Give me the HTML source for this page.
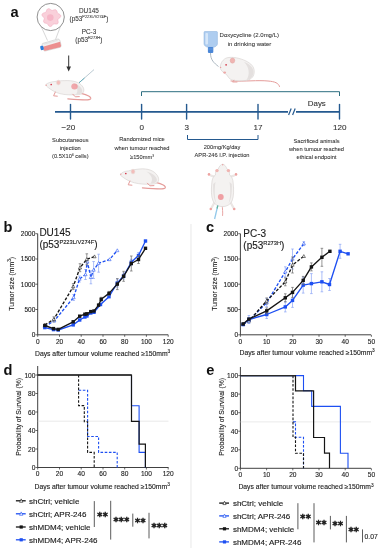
<!DOCTYPE html>
<html><head><meta charset="utf-8"><title>Figure</title><style>
html,body{margin:0;padding:0;background:#fff;}
svg{display:block;}
text{font-family:"Liberation Sans", Arial, Helvetica, sans-serif;}
.lbl{font-weight:bold;font-size:14.6px;fill:#111;}
.ta{fill:#333;stroke:#333;stroke-width:0.07px;}
.tt{fill:#333;stroke:#333;stroke-width:0.1px;}
.tk{font-size:6.5px;fill:#222;stroke:#222;stroke-width:0.12px;}
.tk2{font-size:6.6px;fill:#222;stroke:#222;stroke-width:0.12px;}
.tit{font-size:10px;fill:#1a1a1a;stroke:#1a1a1a;stroke-width:0.12px;}
.ax{font-size:6.8px;fill:#222;stroke:#222;stroke-width:0.12px;}
.lg{font-size:8px;fill:#1a1a1a;stroke:#1a1a1a;stroke-width:0.14px;}
.st{font-family:"DejaVu Sans", "Liberation Sans", sans-serif;font-size:9.6px;font-weight:bold;fill:#151515;stroke:#151515;stroke-width:0.45px;letter-spacing:0.45px;}
</style></head>
<body><svg width="385" height="550" viewBox="0 0 385 550">
<rect x="0" y="0" width="385" height="550" fill="#ffffff"/>

<text x="10.4" y="17.4" class="lbl" font-size="14">a</text>
<line x1="40.5" y1="25" x2="47.5" y2="40.5" stroke="#bcbcbc" stroke-width="0.6"/>
<line x1="61" y1="25" x2="55.5" y2="39.5" stroke="#bcbcbc" stroke-width="0.6"/>
<circle cx="50.7" cy="17" r="13.6" fill="#ffffff" stroke="#858585" stroke-width="0.9"/>
<path d="M60.26,17.30 L59.90,17.68 L59.50,18.03 L59.08,18.34 L58.69,18.62 L58.35,18.88 L58.08,19.14 L57.90,19.41 L57.81,19.71 L57.80,20.04 L57.86,20.41 L57.95,20.83 L58.06,21.28 L58.14,21.75 L58.17,22.22 L58.14,22.67 L58.02,23.09 L57.81,23.44 L57.52,23.71 L57.14,23.91 L56.72,24.01 L56.25,24.05 L55.77,24.03 L55.31,23.97 L54.86,23.91 L54.46,23.86 L54.09,23.87 L53.76,23.93 L53.47,24.07 L53.19,24.29 L52.91,24.58 L52.62,24.92 L52.31,25.29 L51.97,25.65 L51.60,25.99 L51.20,26.26 L50.78,26.44 L50.35,26.52 L49.92,26.49 L49.51,26.35 L49.13,26.11 L48.79,25.79 L48.48,25.43 L48.21,25.05 L47.96,24.66 L47.72,24.31 L47.48,24.01 L47.22,23.76 L46.94,23.57 L46.61,23.43 L46.25,23.33 L45.85,23.24 L45.44,23.15 L45.02,23.04 L44.62,22.88 L44.26,22.67 L43.96,22.41 L43.75,22.08 L43.62,21.70 L43.58,21.28 L43.62,20.84 L43.73,20.40 L43.88,19.97 L44.04,19.56 L44.18,19.18 L44.27,18.83 L44.30,18.52 L44.25,18.21 L44.10,17.92 L43.87,17.62 L43.57,17.30 L43.23,16.95 L42.88,16.57 L42.55,16.16 L42.27,15.73 L42.08,15.28 L42.00,14.83 L42.03,14.41 L42.19,14.02 L42.46,13.67 L42.82,13.38 L43.26,13.15 L43.73,12.97 L44.21,12.82 L44.68,12.70 L45.09,12.57 L45.46,12.43 L45.75,12.24 L45.98,12.00 L46.17,11.71 L46.31,11.35 L46.44,10.94 L46.58,10.51 L46.75,10.06 L46.96,9.64 L47.22,9.27 L47.53,8.97 L47.90,8.76 L48.31,8.67 L48.75,8.68 L49.20,8.79 L49.65,8.98 L50.07,9.24 L50.48,9.52 L50.85,9.80 L51.20,10.06 L51.53,10.26 L51.84,10.38 L52.16,10.43 L52.49,10.41 L52.84,10.31 L53.22,10.18 L53.64,10.02 L54.07,9.88 L54.52,9.77 L54.96,9.72 L55.39,9.74 L55.78,9.85 L56.13,10.05 L56.42,10.33 L56.65,10.66 L56.83,11.04 L56.97,11.44 L57.08,11.84 L57.18,12.23 L57.30,12.57 L57.46,12.88 L57.67,13.15 L57.94,13.39 L58.27,13.61 L58.65,13.81 L59.07,14.03 L59.50,14.28 L59.90,14.55 L60.26,14.87 L60.54,15.23 L60.72,15.62 L60.78,16.04 L60.72,16.47 L60.54,16.89 Z" fill="#f9d0da" stroke="#f2a9bd" stroke-width="0.6"/>
<circle cx="50.3" cy="17.6" r="3.3" fill="#f6b6c7"/>
<g transform="rotate(-14 52 45)">
<path d="M43.5,41.2 L58.5,40.6 C60,40.6 60.8,41.4 60.8,43 L60.8,47.6 C60.8,48.6 60,49.2 59,49.2 L44,49.2 C43,49.2 42.6,48.6 42.6,47.6 L42.6,42.2 C42.6,41.6 43,41.2 43.5,41.2 Z" fill="#f1f1f1" stroke="#c4c4c4" stroke-width="0.5"/>
<path d="M42.8,44.6 L60.6,43.8 L60.6,47.6 C60.6,48.5 60,49 59,49 L44,49 C43.2,49 42.8,48.5 42.8,47.6 Z" fill="#ec8f8f"/>
<path d="M44.5,42.3 L58.6,41.8" stroke="#dcdcdc" stroke-width="0.6"/>
<rect x="40" y="43.2" width="3.2" height="4.4" rx="1.3" fill="#2b7fdc"/>
</g>
<text class="ta" x="88.9" y="13.3" font-size="6.4" text-anchor="middle">DU145</text>
<text class="ta" x="88.9" y="20.6" font-size="6.4" text-anchor="middle">(p53<tspan font-size="3.9" dy="-2.6">P223L/V274F</tspan><tspan dy="2.6">)</tspan></text>
<text class="ta" x="89" y="34.4" font-size="6.4" text-anchor="middle">PC-3</text>
<text class="ta" x="88.8" y="41.9" font-size="6.4" text-anchor="middle">(p53<tspan font-size="3.9" dy="-2.6">R273H</tspan><tspan dy="2.6">)</tspan></text>
<line x1="68.7" y1="55.5" x2="68.7" y2="68" stroke="#333" stroke-width="1"/>
<path d="M66.4,66.5 L71,66.5 L68.7,71.5 Z" fill="#333"/>
<line x1="79" y1="82.8" x2="94" y2="69.6" stroke="#a9bcc6" stroke-width="0.8"/>
<line x1="79" y1="82.8" x2="84.5" y2="78" stroke="#5aa8b8" stroke-width="0.9"/>
<g transform="translate(45.8,80.6) scale(1.0)"><path d="M35.3,12.8 C42,14.3 45.6,16.3 44.9,18.2 C44,20 38,19.6 22,18.3" fill="none" stroke="#e59c9a" stroke-width="1.1" stroke-linecap="round"/><path d="M0,4 C1.5,2.5 5,1.2 9,0.9 C13,0.2 17,0 22,0 C30,0.2 35,2.5 37.5,7 C39,10.5 37.5,13.5 33,14 C27,14.5 19,14.5 14,13 C10,12 5,9.2 2.5,7 C1,6 0,5 0,4 Z" fill="#f4f2f1" stroke="#d2cbc9" stroke-width="0.55"/><path d="M26,2 C32,3.5 36.5,7 36.5,10.5 C36.5,13 34,14 30,13.8 C33,11 32,6 26,2 Z" fill="#e4e0df"/><ellipse cx="12.6" cy="2" rx="2" ry="2.4" fill="#f3bebb" stroke="#e6e0de" stroke-width="0.6"/><circle cx="5.4" cy="3.9" r="0.85" fill="#d43a4c"/><circle cx="0.4" cy="4.6" r="0.7" fill="#eaa0a0"/><path d="M9.5,11.5 L7.8,15.2 L11.5,15.6" fill="none" stroke="#e59c9a" stroke-width="1" stroke-linecap="round" stroke-linejoin="round"/><path d="M27,13.6 L29.5,16.2 L33.5,16" fill="none" stroke="#e59c9a" stroke-width="1" stroke-linecap="round" stroke-linejoin="round"/></g>
<ellipse cx="74.5" cy="86.5" rx="3.2" ry="3" fill="#ef8d93" opacity="0.75"/>
<path d="M210.5,53 C210.5,60 214,63 218.5,66.5" fill="none" stroke="#8a9aa6" stroke-width="0.7"/>
<path d="M204.8,31.5 H216.6 C217.1,31.5 217.4,31.8 217.4,32.3 V44 C217.4,45.5 215.5,47 213.5,47.3 H208 C206,47 204,45.5 204,44 V32.3 C204,31.8 204.3,31.5 204.8,31.5 Z" fill="#aecdf0" stroke="#86aedb" stroke-width="0.5"/>
<rect x="205.4" y="33" width="2.6" height="11.5" rx="1" fill="#d6e7f9"/>
<rect x="207.9" y="47.1" width="5.4" height="5.8" rx="0.8" fill="#4a86d6"/>
<line x1="207.9" y1="49" x2="213.3" y2="49" stroke="#80aee6" stroke-width="0.5"/>
<text class="ta" x="249.3" y="37.4" font-size="6" text-anchor="middle">Doxycycline (2.0mg/L)</text>
<text class="ta" x="249.5" y="45.6" font-size="6" text-anchor="middle">in drinking water</text>
<g>
<path d="M231,81 C245,81.6 258,80 268,81 C275,81.6 278.5,83 279.5,86.5" fill="none" stroke="#e59c9a" stroke-width="1" stroke-linecap="round"/>
<path d="M220.3,67.2 C220.5,63 223,59 227,57.8 C232,56.5 240,58 246,61 C251,63.5 254,66.5 254.2,71 C254.5,76 251.5,79.5 247,80.3 C242,81 236,81 232,80 C229,79 228,76.5 226.5,74.5 C224,73 221.5,71 220.8,69.5 C220.4,68.8 220.3,68 220.3,67.2 Z" fill="#f4f2f1" stroke="#d2cbc9" stroke-width="0.55"/>
<path d="M244,62 C250,64 253.5,68 253.5,72 C253.5,76.5 250.5,79.5 246.5,80 C250,75 249.5,67 244,62 Z" fill="#e4e0df"/>
<ellipse cx="232.5" cy="60.6" rx="2.3" ry="2.6" fill="#f0b4b1" stroke="#dca09d" stroke-width="0.4"/>
<circle cx="226.1" cy="64.8" r="0.85" fill="#d43a4c"/>
<circle cx="220.6" cy="67.4" r="0.7" fill="#eaa0a0"/>
<ellipse cx="224.6" cy="72.6" rx="1.5" ry="1.1" fill="#eeaaa8"/>
<path d="M234,80.2 L232.5,82 L237,82" fill="none" stroke="#e59c9a" stroke-width="0.9" stroke-linecap="round"/>
</g>
<path d="M141.5,96 V91.7 H339.5 V96" fill="none" stroke="#2d6e80" stroke-width="1"/>
<line x1="55" y1="111.9" x2="339.5" y2="111.9" stroke="#24598f" stroke-width="1.6"/>
<line x1="70.5" y1="104.5" x2="70.5" y2="119" stroke="#24598f" stroke-width="1.4" stroke-linecap="round"/>
<line x1="141.6" y1="104.5" x2="141.6" y2="119" stroke="#24598f" stroke-width="1.4" stroke-linecap="round"/>
<line x1="186.6" y1="104.5" x2="186.6" y2="119" stroke="#24598f" stroke-width="1.4" stroke-linecap="round"/>
<line x1="258" y1="104.5" x2="258" y2="119" stroke="#24598f" stroke-width="1.4" stroke-linecap="round"/>
<line x1="339.5" y1="104.5" x2="339.5" y2="119" stroke="#24598f" stroke-width="1.4" stroke-linecap="round"/>
<rect x="288" y="108" width="8" height="8" fill="#fff"/>
<line x1="288.6" y1="115" x2="291.2" y2="108.6" stroke="#24598f" stroke-width="1.2"/>
<line x1="292.6" y1="115" x2="295.2" y2="108.6" stroke="#24598f" stroke-width="1.2"/>
<text class="tt" x="316.8" y="105.6" font-size="7.9" text-anchor="middle">Days</text>
<text class="tt" x="68.3" y="129.6" font-size="8.1" text-anchor="middle">−20</text>
<text class="tt" x="141.8" y="129.6" font-size="8.1" text-anchor="middle">0</text>
<text class="tt" x="186.8" y="129.6" font-size="8.1" text-anchor="middle">3</text>
<text class="tt" x="258" y="129.6" font-size="8.1" text-anchor="middle">17</text>
<text class="tt" x="339.8" y="129.6" font-size="8.1" text-anchor="middle">120</text>
<path d="M187.5,135 V139.5 H258 V135" fill="none" stroke="#24598f" stroke-width="1"/>
<text class="ta" x="70.3" y="142.2" font-size="5.7" text-anchor="middle">Subcutaneous</text>
<text class="ta" x="70.3" y="150.2" font-size="5.7" text-anchor="middle">injection</text>
<text class="ta" x="70.3" y="158.2" font-size="5.7" text-anchor="middle">(0.5X10<tspan font-size="3.2" dy="-2">6</tspan><tspan dy="2"> cells)</tspan></text>
<text class="ta" x="142" y="141.4" font-size="5.7" text-anchor="middle">Randomized mice</text>
<text class="ta" x="142" y="149.5" font-size="5.7" text-anchor="middle">when tumour reached</text>
<text class="ta" x="142" y="158.5" font-size="5.7" text-anchor="middle">≥150mm<tspan font-size="3.2" dy="-2">3</tspan></text>
<text class="ta" x="222" y="149" font-size="5.7" text-anchor="middle">200mg/Kg/day</text>
<text class="ta" x="222" y="157" font-size="5.7" text-anchor="middle">APR-246 I.P. injection</text>
<text class="ta" x="316.5" y="143" font-size="5.7" text-anchor="middle">Sacrificed animals</text>
<text class="ta" x="316.5" y="151" font-size="5.7" text-anchor="middle">when tumour reached</text>
<text class="ta" x="316.5" y="159.4" font-size="5.7" text-anchor="middle">ethical endpoint</text>
<g transform="translate(120.4,169.6) scale(1.0)"><path d="M35.3,12.8 C42,14.3 45.6,16.3 44.9,18.2 C44,20 38,19.6 22,18.3" fill="none" stroke="#e59c9a" stroke-width="1.1" stroke-linecap="round"/><path d="M0,5 C1,3 4,1.6 8,1.3 C12,0.3 16,-0.5 22,-0.8 C30,-0.8 35.5,2.5 37.8,7.5 C39.2,11 37.5,14 33,14.5 C27,15 19,14.6 14,13.2 C10,12.2 5,9.6 2.5,7.6 C1,6.6 0,6 0,5 Z" fill="#f4f2f1" stroke="#d2cbc9" stroke-width="0.55"/><path d="M26,2 C32,3.5 36.5,7 36.5,10.5 C36.5,13 34,14 30,13.8 C33,11 32,6 26,2 Z" fill="#e4e0df"/><ellipse cx="12.6" cy="2" rx="2" ry="2.4" fill="#f3bebb" stroke="#e6e0de" stroke-width="0.6"/><circle cx="5.4" cy="3.9" r="0.85" fill="#d43a4c"/><circle cx="0.4" cy="4.6" r="0.7" fill="#eaa0a0"/><path d="M9.5,11.5 L7.8,15.2 L11.5,15.6" fill="none" stroke="#e59c9a" stroke-width="1" stroke-linecap="round" stroke-linejoin="round"/><path d="M27,13.6 L29.5,16.2 L33.5,16" fill="none" stroke="#e59c9a" stroke-width="1" stroke-linecap="round" stroke-linejoin="round"/></g>
<g>
<path d="M222.4,205 C222.2,209 223,212 222.6,215.5" fill="none" stroke="#e59c9a" stroke-width="0.9" stroke-linecap="round"/>
<path d="M215.8,177 L211,175.6 M229.2,177 L234,175.6 M215.6,200.5 L211.6,207.6 M229.4,200.5 L233.4,207.6" fill="none" stroke="#ebe6e4" stroke-width="2.2" stroke-linecap="round"/>
<circle cx="209" cy="174.4" r="1.3" fill="#eda3a1"/><circle cx="236" cy="174.4" r="1.3" fill="#eda3a1"/>
<circle cx="210.8" cy="209" r="1.3" fill="#eda3a1"/><circle cx="234.2" cy="209" r="1.3" fill="#eda3a1"/>
<path d="M222.7,164.2 C224.5,164.2 226,166.5 227,169 C229,170 230,172.5 229.5,175 C231.5,176 233,179 233.2,183 C233.8,190 234,196 232,201 C230.5,204.5 227,206.5 222.5,206.7 C218,206.5 214.5,204.5 213,201 C211,196 211.2,190 211.8,183 C212,179 213.5,176 215.5,175 C215,172.5 216,170 218.2,169 C219.2,166.5 220.8,164.2 222.7,164.2 Z" fill="#f4f2f1" stroke="#d2cbc9" stroke-width="0.55"/>
<path d="M213.2,184 C213,192 213.5,199 216.5,203.5 C214.5,198 214.2,190 215.5,182 Z M231.8,184 C232,192 231.5,199 228.5,203.5 C230.5,198 230.8,190 229.5,182 Z" fill="#e4e0df"/>
<circle cx="217" cy="170.6" r="1.7" fill="#f0b4b1"/><circle cx="228.4" cy="170.6" r="1.7" fill="#f0b4b1"/>
<circle cx="222.7" cy="164.8" r="0.7" fill="#eaa0a0"/>
<circle cx="220.8" cy="197" r="2.9" fill="#ee8a90" opacity="0.8"/>
<line x1="217.8" y1="205.5" x2="214.6" y2="219" stroke="#93c9ea" stroke-width="1.3"/>
<line x1="217.8" y1="205.5" x2="217.1" y2="208.5" stroke="#5fb39a" stroke-width="1.2"/>
</g>
<line x1="37.7" y1="233.7" x2="37.7" y2="334.8" stroke="#2b2b2b" stroke-width="0.9"/>
<line x1="37.7" y1="334.8" x2="168.2" y2="334.8" stroke="#2b2b2b" stroke-width="0.9"/>
<line x1="35.5" y1="334.8" x2="37.7" y2="334.8" stroke="#2b2b2b" stroke-width="0.7"/>
<text class="tk" x="35.3" y="337.2" text-anchor="end">0</text>
<line x1="35.5" y1="309.5" x2="37.7" y2="309.5" stroke="#2b2b2b" stroke-width="0.7"/>
<text class="tk" x="35.3" y="311.9" text-anchor="end">500</text>
<line x1="35.5" y1="284.2" x2="37.7" y2="284.2" stroke="#2b2b2b" stroke-width="0.7"/>
<text class="tk" x="35.3" y="286.6" text-anchor="end">1000</text>
<line x1="35.5" y1="259.0" x2="37.7" y2="259.0" stroke="#2b2b2b" stroke-width="0.7"/>
<text class="tk" x="35.3" y="261.3" text-anchor="end">1500</text>
<line x1="35.5" y1="233.7" x2="37.7" y2="233.7" stroke="#2b2b2b" stroke-width="0.7"/>
<text class="tk" x="35.3" y="236.1" text-anchor="end">2000</text>
<line x1="37.7" y1="334.8" x2="37.7" y2="336.8" stroke="#2b2b2b" stroke-width="0.7"/>
<text class="tk" x="37.7" y="343.7" text-anchor="middle">0</text>
<line x1="59.5" y1="334.8" x2="59.5" y2="336.8" stroke="#2b2b2b" stroke-width="0.7"/>
<text class="tk" x="59.5" y="343.7" text-anchor="middle">20</text>
<line x1="81.2" y1="334.8" x2="81.2" y2="336.8" stroke="#2b2b2b" stroke-width="0.7"/>
<text class="tk" x="81.2" y="343.7" text-anchor="middle">40</text>
<line x1="103.0" y1="334.8" x2="103.0" y2="336.8" stroke="#2b2b2b" stroke-width="0.7"/>
<text class="tk" x="103.0" y="343.7" text-anchor="middle">60</text>
<line x1="124.7" y1="334.8" x2="124.7" y2="336.8" stroke="#2b2b2b" stroke-width="0.7"/>
<text class="tk" x="124.7" y="343.7" text-anchor="middle">80</text>
<line x1="146.4" y1="334.8" x2="146.4" y2="336.8" stroke="#2b2b2b" stroke-width="0.7"/>
<text class="tk" x="146.4" y="343.7" text-anchor="middle">100</text>
<line x1="168.2" y1="334.8" x2="168.2" y2="336.8" stroke="#2b2b2b" stroke-width="0.7"/>
<text class="tk" x="168.2" y="343.7" text-anchor="middle">120</text>
<line x1="240.4" y1="233.7" x2="240.4" y2="334.8" stroke="#2b2b2b" stroke-width="0.9"/>
<line x1="240.4" y1="334.8" x2="371" y2="334.8" stroke="#2b2b2b" stroke-width="0.9"/>
<line x1="238.20000000000002" y1="334.8" x2="240.4" y2="334.8" stroke="#2b2b2b" stroke-width="0.7"/>
<text class="tk" x="238.0" y="337.2" text-anchor="end">0</text>
<line x1="238.20000000000002" y1="309.5" x2="240.4" y2="309.5" stroke="#2b2b2b" stroke-width="0.7"/>
<text class="tk" x="238.0" y="311.9" text-anchor="end">500</text>
<line x1="238.20000000000002" y1="284.2" x2="240.4" y2="284.2" stroke="#2b2b2b" stroke-width="0.7"/>
<text class="tk" x="238.0" y="286.6" text-anchor="end">1000</text>
<line x1="238.20000000000002" y1="259.0" x2="240.4" y2="259.0" stroke="#2b2b2b" stroke-width="0.7"/>
<text class="tk" x="238.0" y="261.3" text-anchor="end">1500</text>
<line x1="238.20000000000002" y1="233.7" x2="240.4" y2="233.7" stroke="#2b2b2b" stroke-width="0.7"/>
<text class="tk" x="238.0" y="236.1" text-anchor="end">2000</text>
<line x1="240.4" y1="334.8" x2="240.4" y2="336.8" stroke="#2b2b2b" stroke-width="0.7"/>
<text class="tk" x="240.4" y="343.7" text-anchor="middle">0</text>
<line x1="266.6" y1="334.8" x2="266.6" y2="336.8" stroke="#2b2b2b" stroke-width="0.7"/>
<text class="tk" x="266.6" y="343.7" text-anchor="middle">10</text>
<line x1="292.8" y1="334.8" x2="292.8" y2="336.8" stroke="#2b2b2b" stroke-width="0.7"/>
<text class="tk" x="292.8" y="343.7" text-anchor="middle">20</text>
<line x1="319.0" y1="334.8" x2="319.0" y2="336.8" stroke="#2b2b2b" stroke-width="0.7"/>
<text class="tk" x="319.0" y="343.7" text-anchor="middle">30</text>
<line x1="345.2" y1="334.8" x2="345.2" y2="336.8" stroke="#2b2b2b" stroke-width="0.7"/>
<text class="tk" x="345.2" y="343.7" text-anchor="middle">40</text>
<line x1="371.4" y1="334.8" x2="371.4" y2="336.8" stroke="#2b2b2b" stroke-width="0.7"/>
<text class="tk" x="371.4" y="343.7" text-anchor="middle">50</text>
<text class="lbl" x="3.5" y="231.5">b</text>
<text class="lbl" x="206" y="231.7">c</text>
<text class="tit" x="39.4" y="235.6">DU145</text>
<text class="tit" x="39.4" y="247.9">(p53<tspan font-size="5.7" dy="-4">P223L/V274F</tspan><tspan dy="4">)</tspan></text>
<text class="tit" x="243.3" y="236.8">PC-3</text>
<text class="tit" x="243.3" y="249.0">(p53<tspan font-size="5.7" dy="-4">R273H</tspan><tspan dy="4">)</tspan></text>
<text class="ax" transform="translate(13.8,283.8) rotate(-90)" font-size="7" text-anchor="middle">Tumor size (mm<tspan font-size="4.8" dy="-2.7">3</tspan><tspan dy="2.7">)</tspan></text>
<text class="ax" transform="translate(217.2,283.8) rotate(-90)" font-size="7" text-anchor="middle">Tumor size (mm<tspan font-size="4.8" dy="-2.7">3</tspan><tspan dy="2.7">)</tspan></text>
<text class="ax" x="35" y="355.6">Days after tumour volume reached ≥150mm<tspan font-size="4.8" dy="-2.7">3</tspan></text>
<text class="ax" x="239.5" y="355">Days after tumour volume reached ≥150mm<tspan font-size="4.8" dy="-2.7">3</tspan></text>
<path d="M73.6,294.5 V300.5 M72.3,294.5 H74.9 M72.3,300.5 H74.9" stroke="#8aa4f7" stroke-width="0.7" fill="none"/>
<path d="M79.5,276.0 V282.0 M78.2,276.0 H80.8 M78.2,282.0 H80.8" stroke="#8aa4f7" stroke-width="0.7" fill="none"/>
<path d="M85.5,269.5 V279.5 M84.2,269.5 H86.8 M84.2,279.5 H86.8" stroke="#8aa4f7" stroke-width="0.7" fill="none"/>
<path d="M90.9,270.8 V283.8 M89.6,270.8 H92.2 M89.6,283.8 H92.2" stroke="#8aa4f7" stroke-width="0.7" fill="none"/>
<path d="M93.6,261.5 V278.5 M92.3,261.5 H94.9 M92.3,278.5 H94.9" stroke="#8aa4f7" stroke-width="0.7" fill="none"/>
<path d="M98.6,254.2 V272.2 M97.3,254.2 H99.9 M97.3,272.2 H99.9" stroke="#8aa4f7" stroke-width="0.7" fill="none"/>
<polyline points="44.8,326.5 54.3,320.8 73.6,297.5 79.5,279.0 85.5,274.5 87.3,261.8 90.9,277.3 93.6,270.0 98.6,263.2 109.5,259.5 117.3,250.5" fill="none" stroke="#1d4ff2" stroke-width="1.35" stroke-dasharray="3,1.7" stroke-linejoin="round"/>
<path d="M44.8,324.8 L46.4,327.7 L43.2,327.7 Z" fill="#fff" stroke="#1d4ff2" stroke-width="0.55"/>
<path d="M54.3,319.1 L55.9,322.0 L52.7,322.0 Z" fill="#fff" stroke="#1d4ff2" stroke-width="0.55"/>
<path d="M73.6,295.8 L75.2,298.7 L72.0,298.7 Z" fill="#fff" stroke="#1d4ff2" stroke-width="0.55"/>
<path d="M79.5,277.3 L81.1,280.2 L77.9,280.2 Z" fill="#fff" stroke="#1d4ff2" stroke-width="0.55"/>
<path d="M85.5,272.8 L87.1,275.7 L83.9,275.7 Z" fill="#fff" stroke="#1d4ff2" stroke-width="0.55"/>
<path d="M87.3,260.1 L88.9,263.0 L85.7,263.0 Z" fill="#fff" stroke="#1d4ff2" stroke-width="0.55"/>
<path d="M90.9,275.6 L92.5,278.5 L89.3,278.5 Z" fill="#fff" stroke="#1d4ff2" stroke-width="0.55"/>
<path d="M93.6,268.3 L95.2,271.2 L92.0,271.2 Z" fill="#fff" stroke="#1d4ff2" stroke-width="0.55"/>
<path d="M98.6,261.5 L100.2,264.4 L97.0,264.4 Z" fill="#fff" stroke="#1d4ff2" stroke-width="0.55"/>
<path d="M109.5,257.8 L111.1,260.7 L107.9,260.7 Z" fill="#fff" stroke="#1d4ff2" stroke-width="0.55"/>
<path d="M117.3,248.8 L118.9,251.7 L115.7,251.7 Z" fill="#fff" stroke="#1d4ff2" stroke-width="0.55"/>
<path d="M53.8,316.8 V321.8 M52.5,316.8 H55.1 M52.5,321.8 H55.1" stroke="#6a6a6a" stroke-width="0.7" fill="none"/>
<path d="M73.2,283.6 V289.6 M71.9,283.6 H74.5 M71.9,289.6 H74.5" stroke="#6a6a6a" stroke-width="0.7" fill="none"/>
<path d="M80.0,263.7 V271.7 M78.7,263.7 H81.3 M78.7,271.7 H81.3" stroke="#6a6a6a" stroke-width="0.7" fill="none"/>
<path d="M86.8,253.8 V264.8 M85.5,253.8 H88.1 M85.5,264.8 H88.1" stroke="#6a6a6a" stroke-width="0.7" fill="none"/>
<polyline points="44.8,325.0 53.8,319.3 73.2,286.6 80.0,267.7 86.8,259.3 94.5,256.6" fill="none" stroke="#151515" stroke-width="1.35" stroke-dasharray="3,1.7" stroke-linejoin="round"/>
<path d="M44.8,323.3 L46.4,326.2 L43.2,326.2 Z" fill="#fff" stroke="#151515" stroke-width="0.55"/>
<path d="M53.8,317.6 L55.4,320.5 L52.2,320.5 Z" fill="#fff" stroke="#151515" stroke-width="0.55"/>
<path d="M73.2,284.9 L74.8,287.8 L71.6,287.8 Z" fill="#fff" stroke="#151515" stroke-width="0.55"/>
<path d="M80.0,266.0 L81.6,268.9 L78.4,268.9 Z" fill="#fff" stroke="#151515" stroke-width="0.55"/>
<path d="M86.8,257.6 L88.4,260.5 L85.2,260.5 Z" fill="#fff" stroke="#151515" stroke-width="0.55"/>
<path d="M94.5,254.9 L96.1,257.8 L92.9,257.8 Z" fill="#fff" stroke="#151515" stroke-width="0.55"/>
<path d="M117.3,279.0 V287.0 M116.0,279.0 H118.6 M116.0,287.0 H118.6" stroke="#8aa4f7" stroke-width="0.7" fill="none"/>
<path d="M123.6,273.0 V279.0 M122.3,273.0 H124.9 M122.3,279.0 H124.9" stroke="#8aa4f7" stroke-width="0.7" fill="none"/>
<path d="M131.3,259.3 V265.3 M130.0,259.3 H132.6 M130.0,265.3 H132.6" stroke="#8aa4f7" stroke-width="0.7" fill="none"/>
<path d="M138.5,252.5 V258.5 M137.2,252.5 H139.8 M137.2,258.5 H139.8" stroke="#8aa4f7" stroke-width="0.7" fill="none"/>
<polyline points="44.8,327.6 53.5,329.6 58.2,330.0 73.2,324.9 79.7,320.0 84.9,317.0 86.9,316.0 90.8,313.0 94.0,312.3 100.5,304.5 109.0,296.7 117.3,283.0 123.6,276.0 131.3,262.3 138.5,255.5 145.5,241.0" fill="none" stroke="#1d4ff2" stroke-width="1.35" stroke-linejoin="round"/>
<rect x="43.1" y="325.9" width="3.4" height="3.4" fill="#1d4ff2"/>
<rect x="51.8" y="327.9" width="3.4" height="3.4" fill="#1d4ff2"/>
<rect x="56.5" y="328.3" width="3.4" height="3.4" fill="#1d4ff2"/>
<rect x="71.5" y="323.2" width="3.4" height="3.4" fill="#1d4ff2"/>
<rect x="78.0" y="318.3" width="3.4" height="3.4" fill="#1d4ff2"/>
<rect x="83.2" y="315.3" width="3.4" height="3.4" fill="#1d4ff2"/>
<rect x="85.2" y="314.3" width="3.4" height="3.4" fill="#1d4ff2"/>
<rect x="89.1" y="311.3" width="3.4" height="3.4" fill="#1d4ff2"/>
<rect x="92.3" y="310.6" width="3.4" height="3.4" fill="#1d4ff2"/>
<rect x="98.8" y="302.8" width="3.4" height="3.4" fill="#1d4ff2"/>
<rect x="107.3" y="295.0" width="3.4" height="3.4" fill="#1d4ff2"/>
<rect x="115.6" y="281.3" width="3.4" height="3.4" fill="#1d4ff2"/>
<rect x="121.9" y="274.3" width="3.4" height="3.4" fill="#1d4ff2"/>
<rect x="129.6" y="260.6" width="3.4" height="3.4" fill="#1d4ff2"/>
<rect x="136.8" y="253.8" width="3.4" height="3.4" fill="#1d4ff2"/>
<rect x="143.8" y="239.3" width="3.4" height="3.4" fill="#1d4ff2"/>
<path d="M101.2,297.3 V301.3 M99.9,297.3 H102.5 M99.9,301.3 H102.5" stroke="#6a6a6a" stroke-width="0.7" fill="none"/>
<path d="M109.0,291.4 V295.4 M107.7,291.4 H110.3 M107.7,295.4 H110.3" stroke="#6a6a6a" stroke-width="0.7" fill="none"/>
<path d="M117.3,278.6 V289.6 M116.0,278.6 H118.6 M116.0,289.6 H118.6" stroke="#6a6a6a" stroke-width="0.7" fill="none"/>
<path d="M123.6,271.3 V281.3 M122.3,271.3 H124.9 M122.3,281.3 H124.9" stroke="#6a6a6a" stroke-width="0.7" fill="none"/>
<path d="M131.3,256.0 V271.0 M130.0,256.0 H132.6 M130.0,271.0 H132.6" stroke="#6a6a6a" stroke-width="0.7" fill="none"/>
<path d="M138.5,255.5 V263.5 M137.2,255.5 H139.8 M137.2,263.5 H139.8" stroke="#6a6a6a" stroke-width="0.7" fill="none"/>
<polyline points="44.8,325.5 53.5,328.6 58.2,329.4 73.2,321.8 79.7,316.2 84.9,314.2 86.9,313.8 90.8,311.6 94.0,311.0 98.6,305.1 101.2,299.3 109.0,293.4 117.3,284.1 123.6,276.3 131.3,263.5 138.5,259.5 145.5,248.3" fill="none" stroke="#151515" stroke-width="1.35" stroke-linejoin="round"/>
<rect x="43.1" y="323.8" width="3.4" height="3.4" fill="#151515"/>
<rect x="51.8" y="326.9" width="3.4" height="3.4" fill="#151515"/>
<rect x="56.5" y="327.7" width="3.4" height="3.4" fill="#151515"/>
<rect x="71.5" y="320.1" width="3.4" height="3.4" fill="#151515"/>
<rect x="78.0" y="314.5" width="3.4" height="3.4" fill="#151515"/>
<rect x="83.2" y="312.5" width="3.4" height="3.4" fill="#151515"/>
<rect x="85.2" y="312.1" width="3.4" height="3.4" fill="#151515"/>
<rect x="89.1" y="309.9" width="3.4" height="3.4" fill="#151515"/>
<rect x="92.3" y="309.3" width="3.4" height="3.4" fill="#151515"/>
<rect x="96.9" y="303.4" width="3.4" height="3.4" fill="#151515"/>
<rect x="99.5" y="297.6" width="3.4" height="3.4" fill="#151515"/>
<rect x="107.3" y="291.7" width="3.4" height="3.4" fill="#151515"/>
<rect x="115.6" y="282.4" width="3.4" height="3.4" fill="#151515"/>
<rect x="121.9" y="274.6" width="3.4" height="3.4" fill="#151515"/>
<rect x="129.6" y="261.8" width="3.4" height="3.4" fill="#151515"/>
<rect x="136.8" y="257.8" width="3.4" height="3.4" fill="#151515"/>
<rect x="143.8" y="246.6" width="3.4" height="3.4" fill="#151515"/>
<path d="M248.9,317.5 V323.5 M247.6,317.5 H250.2 M247.6,323.5 H250.2" stroke="#8aa4f7" stroke-width="0.7" fill="none"/>
<path d="M266.7,298.7 V306.7 M265.4,298.7 H268.0 M265.4,306.7 H268.0" stroke="#8aa4f7" stroke-width="0.7" fill="none"/>
<path d="M285.3,266.8 V276.8 M284.0,266.8 H286.6 M284.0,276.8 H286.6" stroke="#8aa4f7" stroke-width="0.7" fill="none"/>
<path d="M292.5,249.0 V269.0 M291.2,249.0 H293.8 M291.2,269.0 H293.8" stroke="#8aa4f7" stroke-width="0.7" fill="none"/>
<path d="M303.8,241.6 V245.6 M302.5,241.6 H305.1 M302.5,245.6 H305.1" stroke="#8aa4f7" stroke-width="0.7" fill="none"/>
<polyline points="243.1,324.5 248.9,320.5 266.7,302.7 285.3,271.8 292.5,259.0 303.8,243.6" fill="none" stroke="#1d4ff2" stroke-width="1.35" stroke-dasharray="3,1.7" stroke-linejoin="round"/>
<path d="M243.1,322.8 L244.7,325.7 L241.5,325.7 Z" fill="#fff" stroke="#1d4ff2" stroke-width="0.55"/>
<path d="M248.9,318.8 L250.5,321.7 L247.3,321.7 Z" fill="#fff" stroke="#1d4ff2" stroke-width="0.55"/>
<path d="M266.7,301.0 L268.3,303.9 L265.1,303.9 Z" fill="#fff" stroke="#1d4ff2" stroke-width="0.55"/>
<path d="M285.3,270.1 L286.9,273.0 L283.7,273.0 Z" fill="#fff" stroke="#1d4ff2" stroke-width="0.55"/>
<path d="M292.5,257.3 L294.1,260.2 L290.9,260.2 Z" fill="#fff" stroke="#1d4ff2" stroke-width="0.55"/>
<path d="M303.8,241.9 L305.4,244.8 L302.2,244.8 Z" fill="#fff" stroke="#1d4ff2" stroke-width="0.55"/>
<path d="M266.7,297.9 V303.9 M265.4,297.9 H268.0 M265.4,303.9 H268.0" stroke="#6a6a6a" stroke-width="0.7" fill="none"/>
<path d="M285.3,277.8 V285.8 M284.0,277.8 H286.6 M284.0,285.8 H286.6" stroke="#6a6a6a" stroke-width="0.7" fill="none"/>
<path d="M292.5,257.0 V273.0 M291.2,257.0 H293.8 M291.2,273.0 H293.8" stroke="#6a6a6a" stroke-width="0.7" fill="none"/>
<polyline points="243.1,324.0 248.9,321.0 266.7,300.9 285.3,281.8 292.5,265.0 303.8,256.3" fill="none" stroke="#151515" stroke-width="1.35" stroke-dasharray="3,1.7" stroke-linejoin="round"/>
<path d="M243.1,322.3 L244.7,325.2 L241.5,325.2 Z" fill="#fff" stroke="#151515" stroke-width="0.55"/>
<path d="M248.9,319.3 L250.5,322.2 L247.3,322.2 Z" fill="#fff" stroke="#151515" stroke-width="0.55"/>
<path d="M266.7,299.2 L268.3,302.1 L265.1,302.1 Z" fill="#fff" stroke="#151515" stroke-width="0.55"/>
<path d="M285.3,280.1 L286.9,283.0 L283.7,283.0 Z" fill="#fff" stroke="#151515" stroke-width="0.55"/>
<path d="M292.5,263.3 L294.1,266.2 L290.9,266.2 Z" fill="#fff" stroke="#151515" stroke-width="0.55"/>
<path d="M303.8,254.6 L305.4,257.5 L302.2,257.5 Z" fill="#fff" stroke="#151515" stroke-width="0.55"/>
<path d="M248.9,315.5 V323.5 M247.6,315.5 H250.2 M247.6,323.5 H250.2" stroke="#8aa4f7" stroke-width="0.7" fill="none"/>
<path d="M266.7,310.5 V318.5 M265.4,310.5 H268.0 M265.4,318.5 H268.0" stroke="#8aa4f7" stroke-width="0.7" fill="none"/>
<path d="M285.3,301.9 V311.9 M284.0,301.9 H286.6 M284.0,311.9 H286.6" stroke="#8aa4f7" stroke-width="0.7" fill="none"/>
<path d="M292.5,293.4 V307.4 M291.2,293.4 H293.8 M291.2,307.4 H293.8" stroke="#8aa4f7" stroke-width="0.7" fill="none"/>
<path d="M303.2,277.1 V293.1 M301.9,277.1 H304.5 M301.9,293.1 H304.5" stroke="#8aa4f7" stroke-width="0.7" fill="none"/>
<path d="M311.4,273.6 V293.6 M310.1,273.6 H312.7 M310.1,293.6 H312.7" stroke="#8aa4f7" stroke-width="0.7" fill="none"/>
<path d="M321.9,271.8 V291.8 M320.6,271.8 H323.2 M320.6,291.8 H323.2" stroke="#8aa4f7" stroke-width="0.7" fill="none"/>
<path d="M329.5,278.5 V290.5 M328.2,278.5 H330.8 M328.2,290.5 H330.8" stroke="#8aa4f7" stroke-width="0.7" fill="none"/>
<path d="M340.1,244.3 V258.3 M338.8,244.3 H341.4 M338.8,258.3 H341.4" stroke="#8aa4f7" stroke-width="0.7" fill="none"/>
<polyline points="243.1,324.5 248.9,319.5 266.7,314.5 285.3,306.9 292.5,300.4 303.2,285.1 311.4,283.6 321.9,281.8 329.5,284.5 340.1,251.3 348.1,253.8" fill="none" stroke="#1d4ff2" stroke-width="1.35" stroke-linejoin="round"/>
<rect x="241.4" y="322.8" width="3.4" height="3.4" fill="#1d4ff2"/>
<rect x="247.2" y="317.8" width="3.4" height="3.4" fill="#1d4ff2"/>
<rect x="265.0" y="312.8" width="3.4" height="3.4" fill="#1d4ff2"/>
<rect x="283.6" y="305.2" width="3.4" height="3.4" fill="#1d4ff2"/>
<rect x="290.8" y="298.7" width="3.4" height="3.4" fill="#1d4ff2"/>
<rect x="301.5" y="283.4" width="3.4" height="3.4" fill="#1d4ff2"/>
<rect x="309.7" y="281.9" width="3.4" height="3.4" fill="#1d4ff2"/>
<rect x="320.2" y="280.1" width="3.4" height="3.4" fill="#1d4ff2"/>
<rect x="327.8" y="282.8" width="3.4" height="3.4" fill="#1d4ff2"/>
<rect x="338.4" y="249.6" width="3.4" height="3.4" fill="#1d4ff2"/>
<rect x="346.4" y="252.1" width="3.4" height="3.4" fill="#1d4ff2"/>
<path d="M266.7,307.9 V313.9 M265.4,307.9 H268.0 M265.4,313.9 H268.0" stroke="#6a6a6a" stroke-width="0.7" fill="none"/>
<path d="M285.3,293.8 V301.8 M284.0,293.8 H286.6 M284.0,301.8 H286.6" stroke="#6a6a6a" stroke-width="0.7" fill="none"/>
<path d="M292.5,287.4 V297.4 M291.2,287.4 H293.8 M291.2,297.4 H293.8" stroke="#6a6a6a" stroke-width="0.7" fill="none"/>
<path d="M303.2,276.4 V284.4 M301.9,276.4 H304.5 M301.9,284.4 H304.5" stroke="#6a6a6a" stroke-width="0.7" fill="none"/>
<path d="M311.4,262.9 V270.9 M310.1,262.9 H312.7 M310.1,270.9 H312.7" stroke="#6a6a6a" stroke-width="0.7" fill="none"/>
<path d="M321.9,248.3 V266.3 M320.6,248.3 H323.2 M320.6,266.3 H323.2" stroke="#6a6a6a" stroke-width="0.7" fill="none"/>
<polyline points="243.1,324.0 248.9,319.1 266.7,310.9 285.3,297.8 292.5,292.4 303.2,280.4 311.4,266.9 321.9,257.3 329.9,251.3" fill="none" stroke="#151515" stroke-width="1.35" stroke-linejoin="round"/>
<rect x="241.4" y="322.3" width="3.4" height="3.4" fill="#151515"/>
<rect x="247.2" y="317.4" width="3.4" height="3.4" fill="#151515"/>
<rect x="265.0" y="309.2" width="3.4" height="3.4" fill="#151515"/>
<rect x="283.6" y="296.1" width="3.4" height="3.4" fill="#151515"/>
<rect x="290.8" y="290.7" width="3.4" height="3.4" fill="#151515"/>
<rect x="301.5" y="278.7" width="3.4" height="3.4" fill="#151515"/>
<rect x="309.7" y="265.2" width="3.4" height="3.4" fill="#151515"/>
<rect x="320.2" y="255.6" width="3.4" height="3.4" fill="#151515"/>
<rect x="328.2" y="249.6" width="3.4" height="3.4" fill="#151515"/>
<line x1="37.7" y1="366" x2="37.7" y2="467.5" stroke="#2b2b2b" stroke-width="0.9"/>
<line x1="37.7" y1="467.5" x2="168.5" y2="467.5" stroke="#2b2b2b" stroke-width="0.9"/>
<line x1="37.7" y1="421.2" x2="168.5" y2="421.2" stroke="#dcdcdc" stroke-width="0.6"/>
<line x1="35.5" y1="467.5" x2="37.7" y2="467.5" stroke="#2b2b2b" stroke-width="0.7"/>
<text class="tk2" x="35.4" y="470.0" text-anchor="end">0</text>
<line x1="35.5" y1="449.0" x2="37.7" y2="449.0" stroke="#2b2b2b" stroke-width="0.7"/>
<text class="tk2" x="35.4" y="451.5" text-anchor="end">20</text>
<line x1="35.5" y1="430.5" x2="37.7" y2="430.5" stroke="#2b2b2b" stroke-width="0.7"/>
<text class="tk2" x="35.4" y="433.0" text-anchor="end">40</text>
<line x1="35.5" y1="412.0" x2="37.7" y2="412.0" stroke="#2b2b2b" stroke-width="0.7"/>
<text class="tk2" x="35.4" y="414.5" text-anchor="end">60</text>
<line x1="35.5" y1="393.5" x2="37.7" y2="393.5" stroke="#2b2b2b" stroke-width="0.7"/>
<text class="tk2" x="35.4" y="396.0" text-anchor="end">80</text>
<line x1="35.5" y1="375.0" x2="37.7" y2="375.0" stroke="#2b2b2b" stroke-width="0.7"/>
<text class="tk2" x="35.4" y="377.5" text-anchor="end">100</text>
<line x1="37.7" y1="467.5" x2="37.7" y2="469.5" stroke="#2b2b2b" stroke-width="0.7"/>
<text class="tk2" x="37.7" y="476.3" text-anchor="middle">0</text>
<line x1="59.5" y1="467.5" x2="59.5" y2="469.5" stroke="#2b2b2b" stroke-width="0.7"/>
<text class="tk2" x="59.5" y="476.3" text-anchor="middle">20</text>
<line x1="81.2" y1="467.5" x2="81.2" y2="469.5" stroke="#2b2b2b" stroke-width="0.7"/>
<text class="tk2" x="81.2" y="476.3" text-anchor="middle">40</text>
<line x1="103.0" y1="467.5" x2="103.0" y2="469.5" stroke="#2b2b2b" stroke-width="0.7"/>
<text class="tk2" x="103.0" y="476.3" text-anchor="middle">60</text>
<line x1="124.7" y1="467.5" x2="124.7" y2="469.5" stroke="#2b2b2b" stroke-width="0.7"/>
<text class="tk2" x="124.7" y="476.3" text-anchor="middle">80</text>
<line x1="146.4" y1="467.5" x2="146.4" y2="469.5" stroke="#2b2b2b" stroke-width="0.7"/>
<text class="tk2" x="146.4" y="476.3" text-anchor="middle">100</text>
<line x1="168.2" y1="467.5" x2="168.2" y2="469.5" stroke="#2b2b2b" stroke-width="0.7"/>
<text class="tk2" x="168.2" y="476.3" text-anchor="middle">120</text>
<line x1="240.4" y1="367" x2="240.4" y2="468.3" stroke="#2b2b2b" stroke-width="0.9"/>
<line x1="240.4" y1="468.3" x2="371" y2="468.3" stroke="#2b2b2b" stroke-width="0.9"/>
<line x1="240.4" y1="421.9" x2="371" y2="421.9" stroke="#dcdcdc" stroke-width="0.6"/>
<line x1="238.20000000000002" y1="468.3" x2="240.4" y2="468.3" stroke="#2b2b2b" stroke-width="0.7"/>
<text class="tk2" x="238.1" y="470.8" text-anchor="end">0</text>
<line x1="238.20000000000002" y1="449.8" x2="240.4" y2="449.8" stroke="#2b2b2b" stroke-width="0.7"/>
<text class="tk2" x="238.1" y="452.3" text-anchor="end">20</text>
<line x1="238.20000000000002" y1="431.2" x2="240.4" y2="431.2" stroke="#2b2b2b" stroke-width="0.7"/>
<text class="tk2" x="238.1" y="433.7" text-anchor="end">40</text>
<line x1="238.20000000000002" y1="412.7" x2="240.4" y2="412.7" stroke="#2b2b2b" stroke-width="0.7"/>
<text class="tk2" x="238.1" y="415.2" text-anchor="end">60</text>
<line x1="238.20000000000002" y1="394.1" x2="240.4" y2="394.1" stroke="#2b2b2b" stroke-width="0.7"/>
<text class="tk2" x="238.1" y="396.6" text-anchor="end">80</text>
<line x1="238.20000000000002" y1="375.6" x2="240.4" y2="375.6" stroke="#2b2b2b" stroke-width="0.7"/>
<text class="tk2" x="238.1" y="378.1" text-anchor="end">100</text>
<line x1="240.4" y1="468.3" x2="240.4" y2="470.3" stroke="#2b2b2b" stroke-width="0.7"/>
<text class="tk2" x="240.4" y="477.1" text-anchor="middle">0</text>
<line x1="266.6" y1="468.3" x2="266.6" y2="470.3" stroke="#2b2b2b" stroke-width="0.7"/>
<text class="tk2" x="266.6" y="477.1" text-anchor="middle">10</text>
<line x1="292.8" y1="468.3" x2="292.8" y2="470.3" stroke="#2b2b2b" stroke-width="0.7"/>
<text class="tk2" x="292.8" y="477.1" text-anchor="middle">20</text>
<line x1="319.0" y1="468.3" x2="319.0" y2="470.3" stroke="#2b2b2b" stroke-width="0.7"/>
<text class="tk2" x="319.0" y="477.1" text-anchor="middle">30</text>
<line x1="345.2" y1="468.3" x2="345.2" y2="470.3" stroke="#2b2b2b" stroke-width="0.7"/>
<text class="tk2" x="345.2" y="477.1" text-anchor="middle">40</text>
<line x1="371.4" y1="468.3" x2="371.4" y2="470.3" stroke="#2b2b2b" stroke-width="0.7"/>
<text class="tk2" x="371.4" y="477.1" text-anchor="middle">50</text>
<text class="lbl" x="3.4" y="375.2">d</text>
<text class="lbl" x="206.3" y="375.2">e</text>
<text class="ax" transform="translate(21,416.9) rotate(-90)" text-anchor="middle">Probability of Survival (%)</text>
<text class="ax" transform="translate(224.2,416.9) rotate(-90)" text-anchor="middle">Probability of Survival (%)</text>
<text class="ax" x="34.6" y="488.5">Days after tumour volume reached ≥150mm<tspan font-size="4.8" dy="-2.7">3</tspan></text>
<text class="ax" x="238.4" y="489.3">Days after tumour volume reached ≥150mm<tspan font-size="4.8" dy="-2.7">3</tspan></text>
<path d="M131.5,375 V405.7 H139.1 V452.4 H145.4 V467.5" fill="none" stroke="#1d4ff2" stroke-width="1.1"/>
<path d="M37.7,375 H131.5 V421.3 H139.1 V444.2 H145.4 V467.5" fill="none" stroke="#151515" stroke-width="1.2"/>
<path d="M78.6,390.3 H87.6 V436.5 H98.6 V452.4 H117.2 V467.5" fill="none" stroke="#1d4ff2" stroke-width="1.1" stroke-dasharray="2.6,1.6"/>
<path d="M78.6,375 V405.6 H84.3 V421.7 H87.6 V452.4 H94.2 V467.5" fill="none" stroke="#151515" stroke-width="1.1" stroke-dasharray="2.6,1.6"/>
<path d="M37.7,375 H131.5" fill="none" stroke="#2a2a2a" stroke-width="1.35"/>
<path d="M240.4,375.6 H303.5 V390.8 H311.7 V406.4 H340.4 V453.2 H348 V468.3" fill="none" stroke="#1d4ff2" stroke-width="1.1"/>
<path d="M240.4,375.6 H295.5 V390.8 H313.6 V437.5 H324.5 V453.2 H329.5 V468.3" fill="none" stroke="#151515" stroke-width="1.2"/>
<path d="M293,421.9 H295.5 V437.2 H303.5 V468.3" fill="none" stroke="#1d4ff2" stroke-width="1.1" stroke-dasharray="2.6,1.6"/>
<path d="M293,375.6 V437.2 H295.5 V453.2 H303.5 V468.3" fill="none" stroke="#151515" stroke-width="1.1" stroke-dasharray="2.6,1.6"/>
<path d="M240.4,375.6 H295.5" fill="none" stroke="#2a2a2a" stroke-width="1.35"/>
<line x1="15.9" y1="500.8" x2="25.7" y2="500.8" stroke="#151515" stroke-width="1.3"/>
<path d="M21.2,498.9 L22.8,502.3 L19.6,502.3 Z" fill="#fff" stroke="#151515" stroke-width="0.6"/>
<text class="lg" x="29.1" y="503.6">shCtrl; vehicle</text>
<line x1="15.9" y1="513.8" x2="25.7" y2="513.8" stroke="#1d4ff2" stroke-width="1.3"/>
<path d="M21.2,511.9 L22.8,515.3 L19.6,515.3 Z" fill="#fff" stroke="#1d4ff2" stroke-width="0.6"/>
<text class="lg" x="29.1" y="516.6">shCtrl; APR-246</text>
<line x1="15.9" y1="527.0" x2="25.7" y2="527.0" stroke="#151515" stroke-width="1.3"/>
<rect x="19.6" y="525.4" width="3.2" height="3.2" fill="#151515"/>
<text class="lg" x="29.1" y="529.8">shMDM4; vehicle</text>
<line x1="15.9" y1="539.8" x2="25.7" y2="539.8" stroke="#1d4ff2" stroke-width="1.3"/>
<rect x="19.6" y="538.2" width="3.2" height="3.2" fill="#1d4ff2"/>
<text class="lg" x="29.1" y="542.6">shMDM4; APR-246</text>
<line x1="219.2" y1="503.1" x2="229.0" y2="503.1" stroke="#151515" stroke-width="1.3"/>
<path d="M224.5,501.2 L226.1,504.6 L222.9,504.6 Z" fill="#fff" stroke="#151515" stroke-width="0.6"/>
<text class="lg" x="232.9" y="505.9">shCtrl; vehicle</text>
<line x1="219.2" y1="515.9" x2="229.0" y2="515.9" stroke="#1d4ff2" stroke-width="1.3"/>
<path d="M224.5,514.0 L226.1,517.4 L222.9,517.4 Z" fill="#fff" stroke="#1d4ff2" stroke-width="0.6"/>
<text class="lg" x="232.9" y="518.7">shCtrl; APR-246</text>
<line x1="219.2" y1="528.8" x2="229.0" y2="528.8" stroke="#151515" stroke-width="1.3"/>
<rect x="222.9" y="527.2" width="3.2" height="3.2" fill="#151515"/>
<text class="lg" x="232.9" y="531.6">shMDM4; vehicle</text>
<line x1="219.2" y1="541.9" x2="229.0" y2="541.9" stroke="#1d4ff2" stroke-width="1.3"/>
<rect x="222.9" y="540.3" width="3.2" height="3.2" fill="#1d4ff2"/>
<text class="lg" x="232.9" y="544.7">shMDM4; APR-246</text>
<line x1="94.3" y1="501.1" x2="94.3" y2="527" stroke="#4a4a4a" stroke-width="0.9"/><text class="st" x="97.2" y="519.5">**</text>
<line x1="110.7" y1="500.8" x2="110.7" y2="539.6" stroke="#4a4a4a" stroke-width="0.9"/><text class="st" x="113.4" y="525.1">***</text>
<line x1="132.8" y1="513.6" x2="132.8" y2="526.7" stroke="#4a4a4a" stroke-width="0.9"/><text class="st" x="135.1" y="525.5">**</text>
<line x1="149" y1="512.8" x2="149" y2="538.4" stroke="#4a4a4a" stroke-width="0.9"/><text class="st" x="151.4" y="531.0">***</text>
<line x1="297.9" y1="503.2" x2="297.9" y2="529.3" stroke="#4a4a4a" stroke-width="0.9"/><text class="st" x="300.2" y="521.7">**</text>
<line x1="314" y1="503.2" x2="314" y2="542.4" stroke="#4a4a4a" stroke-width="0.9"/><text class="st" x="316.1" y="527.5">**</text>
<line x1="330.4" y1="515.9" x2="330.4" y2="529.4" stroke="#4a4a4a" stroke-width="0.9"/><text class="st" x="332.5" y="528.5">**</text>
<line x1="346.4" y1="515.9" x2="346.4" y2="542.4" stroke="#4a4a4a" stroke-width="0.9"/><text class="st" x="348.4" y="534.5">**</text>
<line x1="362.5" y1="529.4" x2="362.5" y2="542.4" stroke="#4a4a4a" stroke-width="0.9"/>
<text class="ax" x="364.6" y="538.6" font-size="7.7">0.07</text>
<line x1="191" y1="224" x2="191" y2="548" stroke="#ececec" stroke-width="1.2"/>
</svg></body></html>
